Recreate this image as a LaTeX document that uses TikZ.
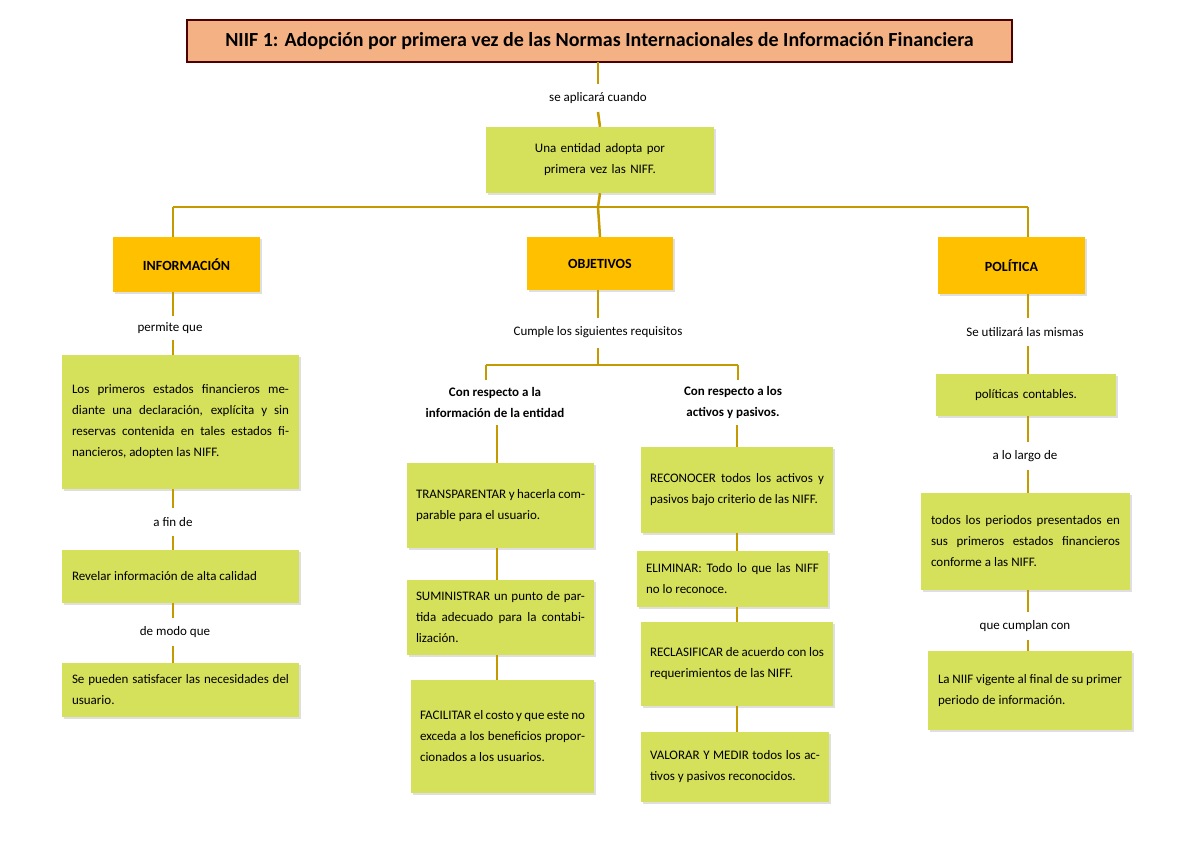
\documentclass[tikz,border=0pt]{standalone}
\usepackage{fontspec}
\setmainfont{Carlito}
\usetikzlibrary{shadows}
\definecolor{gr}{HTML}{D5E05B}
\definecolor{org}{HTML}{FFC000}
\definecolor{sal}{HTML}{F4B183}
\definecolor{ln}{HTML}{C49A00}
\tikzset{
 gbox/.style={fill=gr,draw=none,inner sep=0pt,align=justify,font=\fontsize{13}{21}\selectfont,drop shadow={opacity=0.25,shadow xshift=2pt,shadow yshift=-2pt}},
 obox/.style={fill=org,draw=none,font=\bfseries\fontsize{14}{17}\selectfont,drop shadow={opacity=0.25,shadow xshift=2pt,shadow yshift=-2pt}},
 lab/.style={font=\fontsize{13}{16}\selectfont,inner sep=2pt,align=center},
 blab/.style={font=\bfseries\fontsize{13}{21}\selectfont,inner sep=2pt,align=center},
 con/.style={draw=ln,line width=2.5pt}
}
\begin{document}
\begin{tikzpicture}[x=1pt,y=-1pt]
\useasboundingbox (0,0) rectangle (1200,848);
\node[fill=sal,draw=black!70!red,line width=1.2pt,minimum width=825,minimum height=42,font=\bfseries\fontsize{20}{24}\selectfont] (title) at (599.5,41) {NIIF 1: Adopción por primera vez de las Normas Internacionales de Información Financiera};
\node[lab] (l0) at (598,98) {se aplicará cuando};
\node[gbox,minimum width=228,minimum height=66,text width=190,align=center] (ent) at (600,160) {Una entidad adopta por primera vez las NIFF.};
\node[obox,minimum width=147,minimum height=55] (info) at (186.5,264.5) {INFORMACIÓN};
\node[obox,minimum width=146,minimum height=53] (obj) at (600,263.5) {OBJETIVOS};
\node[obox,minimum width=147,minimum height=57] (pol) at (1011.5,265.5) {POLÍTICA};
% left column
\node[lab] (li1) at (170,328) {permite que};
\node[gbox,minimum width=237,minimum height=134,text width=217] (b1) at (180.5,422) {Los primeros estados financieros mediante una declaración, explícita y sin reservas contenida en tales estados financieros, adopten las NIFF.};
\node[lab] (li2) at (173,522) {a fin de};
\node[gbox,minimum width=237,minimum height=53,text width=217] (b2) at (180.5,576.5) {Revelar información de alta calidad};
\node[lab] (li3) at (175,632) {de modo que};
\node[gbox,minimum width=237,minimum height=54,text width=217] (b3) at (180.5,690) {Se pueden satisfacer las necesidades del usuario.};
% middle
\node[lab] (lo1) at (598,332) {Cumple los siguientes requisitos};
\node[blab] (lL) at (495,402) {Con respecto a la\\información de la entidad};
\node[blab] (lR) at (733,402) {Con respecto a los\\activos y pasivos.};
\node[gbox,minimum width=187,minimum height=85,text width=169] (L1) at (500.5,505.5) {TRANSPARENTAR y hacerla comparable para el usuario.};
\node[gbox,minimum width=187,minimum height=75,text width=169] (L2) at (500.5,617.5) {SUMINISTRAR un punto de partida adecuado para la contabilización.};
\node[gbox,minimum width=183,minimum height=113,text width=165] (L3) at (502.5,736.5) {FACILITAR el costo y que este no exceda a los beneficios proporcionados a los usuarios.};
\node[gbox,minimum width=192,minimum height=86,text width=174] (R1) at (737,490) {RECONOCER todos los activos y pasivos bajo criterio de las NIFF.};
\node[gbox,minimum width=191,minimum height=56,text width=173] (R2) at (732.5,579) {ELIMINAR: Todo lo que las NIFF no lo reconoce.};
\node[gbox,minimum width=192,minimum height=84,text width=174] (R3) at (737,664) {RECLASIFICAR de acuerdo con los requerimientos de las NIFF.};
\node[gbox,minimum width=188,minimum height=70,text width=170] (R4) at (735,767) {VALORAR Y MEDIR todos los activos y pasivos reconocidos.};
% right
\node[lab] (lp1) at (1025,332) {Se utilizará las mismas};
\node[gbox,minimum width=180,minimum height=42,text width=160,align=center] (P1) at (1026,395) {políticas contables.};
\node[lab] (lp2) at (1025,456) {a lo largo de};
\node[gbox,minimum width=209,minimum height=97,text width=189] (P2) at (1025.5,541.5) {todos los periodos presentados en sus primeros estados financieros conforme a las NIFF.};
\node[lab] (lp3) at (1025,626) {que cumplan con};
\node[gbox,minimum width=204,minimum height=79,text width=184] (P3) at (1030,690.5) {La NIIF vigente al final de su primer periodo de información.};
% connectors
\coordinate (bm) at (598,207);
\coordinate (bl) at (173,207);
\coordinate (br) at (1028,207);
\draw[con] (598,62) -- (598,84);
\draw[con] (598,112) -- (ent.north);
\draw[con] (ent.south) -- (bm);
\draw[con] (bl) -- (br);
\draw[con] (bl) -- (173,237);
\draw[con] (bm) -- (obj.north);
\draw[con] (br) -- (1028,237);
\draw[con] (173,292) -- (173,316);
\draw[con] (173,340) -- (173,355);
\draw[con] (173,489) -- (173,508);
\draw[con] (173,536) -- (173,550);
\draw[con] (173,603) -- (173,618);
\draw[con] (173,646) -- (173,663);
\draw[con] (598,290) -- (598,318);
\draw[con] (598,348) -- (598,365);
\draw[con] (486,365) -- (738,365);
\draw[con] (486,365) -- (486,380);
\draw[con] (738,365) -- (738,380);
\draw[con] (497,425) -- (497,463);
\draw[con] (497,548) -- (497,580);
\draw[con] (497,655) -- (497,680);
\draw[con] (737,425) -- (737,447);
\draw[con] (737,533) -- (737,551);
\draw[con] (737,607) -- (737,622);
\draw[con] (737,706) -- (737,732);
\draw[con] (1028,294) -- (1028,318);
\draw[con] (1028,346) -- (1028,374);
\draw[con] (1028,416) -- (1028,442);
\draw[con] (1028,470) -- (1028,493);
\draw[con] (1028,590) -- (1028,612);
\draw[con] (1028,640) -- (1028,651);
\end{tikzpicture}
\end{document}
